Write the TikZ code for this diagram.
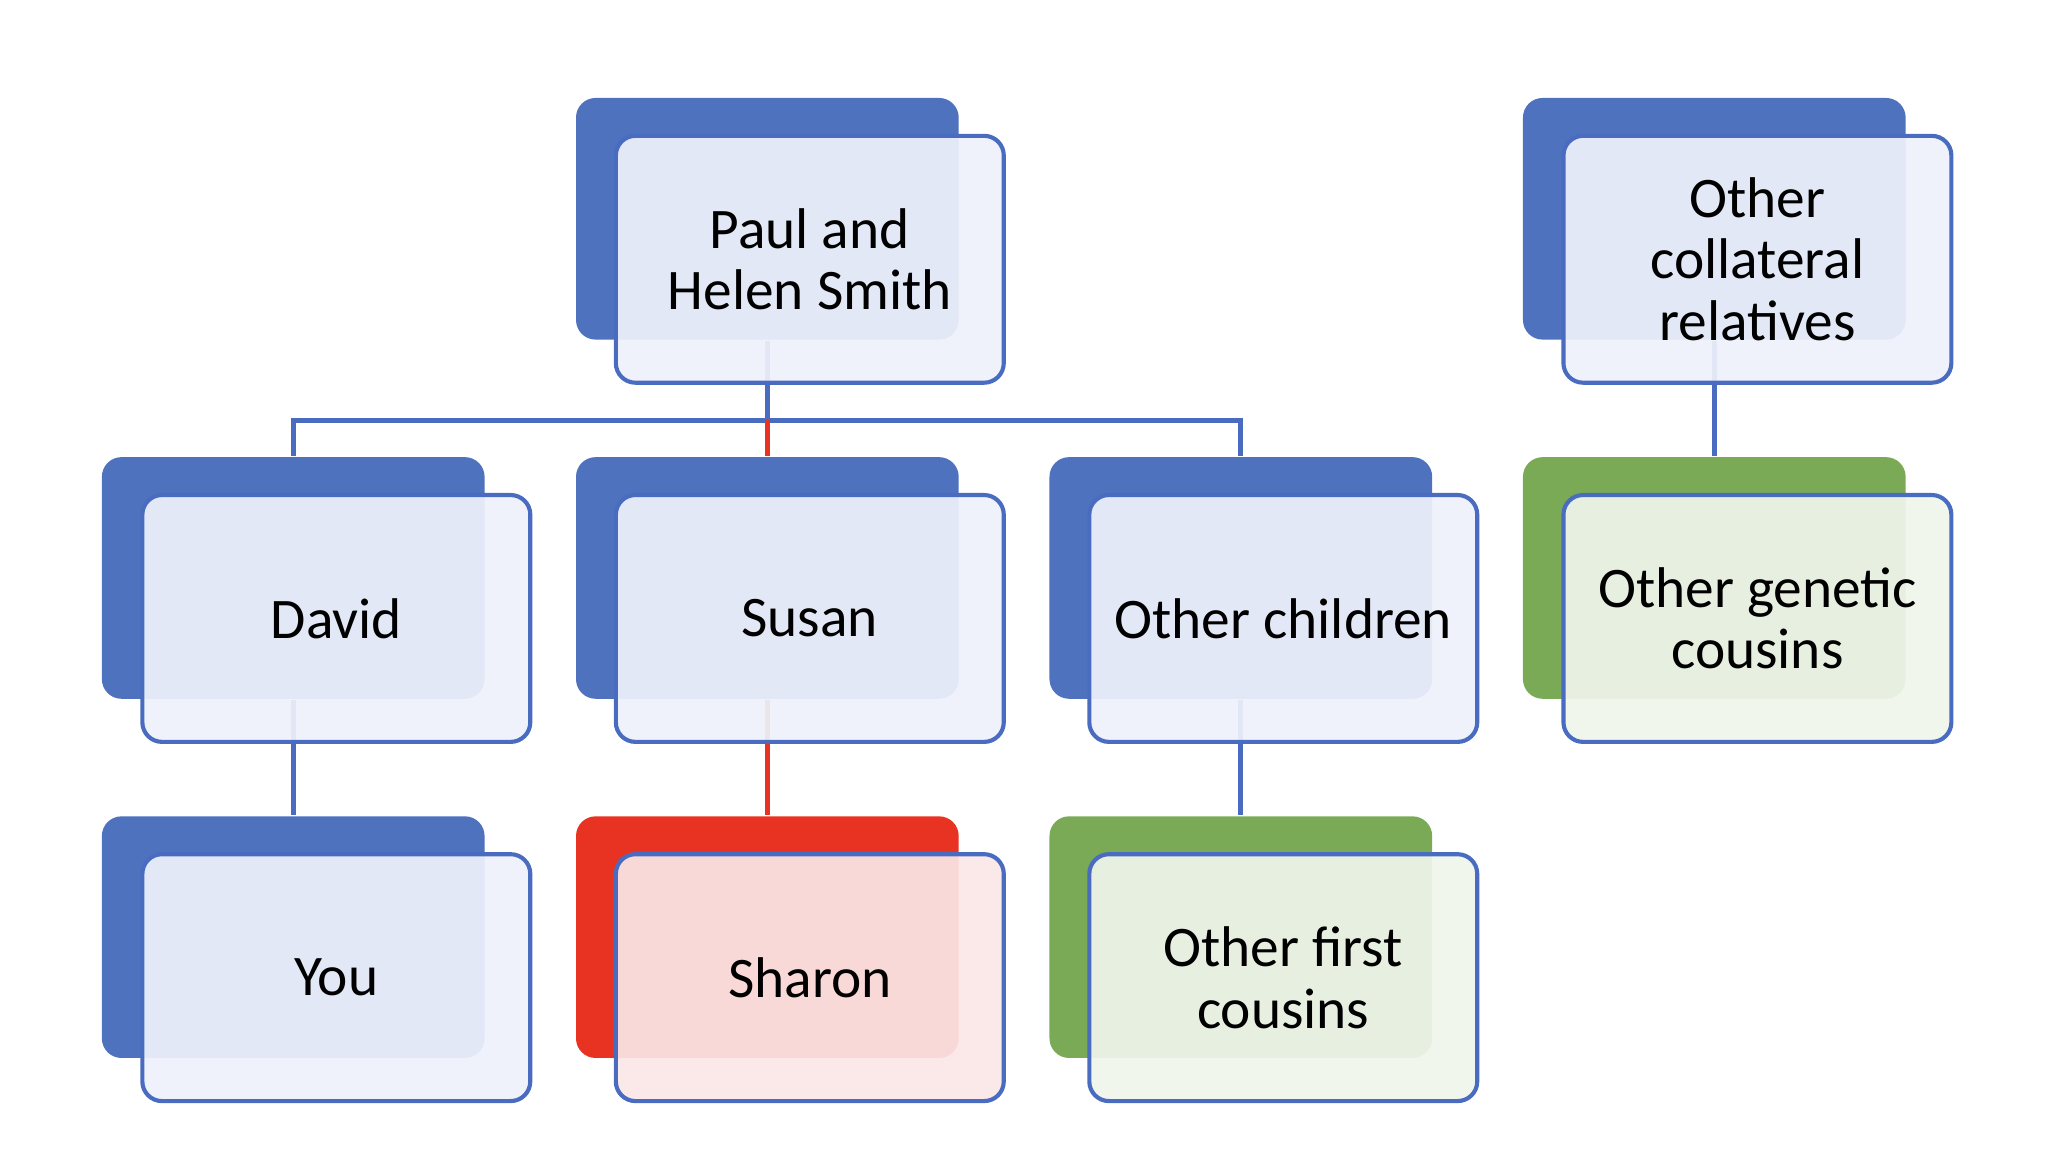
\documentclass[tikz,border=0pt]{standalone}
\usepackage{fontspec}
\setmainfont{Carlito}
\usetikzlibrary{calc}
\definecolor{tblue}{HTML}{4F72BE}
\definecolor{tred}{HTML}{E83323}
\definecolor{tgreen}{HTML}{7BAA57}
\definecolor{tline}{HTML}{4A6CC0}
\definecolor{fblue}{HTML}{EEF1FA}
\definecolor{fred}{HTML}{FBE6E6}
\definecolor{fgreen}{HTML}{F0F5EC}
\tikzset{
  backbox/.style={rounded corners=0.15cm, minimum width=2.93cm, minimum height=1.85cm, inner sep=0pt, fill=#1},
  frontbox/.style={rounded corners=0.15cm, minimum width=2.97cm, minimum height=1.89cm, inner sep=0pt,
    draw=tline, line width=0.9pt, fill=#1, fill opacity=0.93, text opacity=1, align=center,
    font=\fontsize{12.5}{13.4}\selectfont},
  link/.style={draw=tline, line width=1.1pt},
  redlink/.style={draw=tred, line width=1.1pt}
}
\begin{document}
\begin{tikzpicture}
\useasboundingbox (0,0) rectangle (15.68,-8.98);
% Back boxes
\node[backbox=tblue] (paulB) at (5.875,-1.675) {};
\node[backbox=tblue] (otherB) at (13.125,-1.675) {};
\node[backbox=tblue] (davidB) at (2.245,-4.425) {};
\node[backbox=tblue] (susanB) at (5.875,-4.425) {};
\node[backbox=tblue] (childB) at (9.5,-4.425) {};
\node[backbox=tgreen] (geneticB) at (13.125,-4.425) {};
\node[backbox=tblue] (youB) at (2.245,-7.175) {};
\node[backbox=tred] (sharonB) at (5.875,-7.175) {};
\node[backbox=tgreen] (firstB) at (9.5,-7.175) {};
% Connectors
\coordinate (bar) at ($(paulB.south)+(0,-0.61)$);
\draw[link] (paulB.south) -- (bar);
\draw[link] (davidB.north) |- (bar) -| (childB.north);
\draw[redlink] (bar) -- (susanB.north);
\draw[link] (otherB.south) -- (geneticB.north);
\draw[link] (davidB.south) -- (youB.north);
\draw[redlink] (susanB.south) -- (sharonB.north);
\draw[link] (childB.south) -- (firstB.north);
% Front boxes
\node[frontbox=fblue] (paul) at (6.2,-1.985) {Paul and\\Helen Smith};
\node[frontbox=fblue] (other) at (13.455,-1.985) {Other\\collateral\\relatives};
\node[frontbox=fblue] (david) at (2.575,-4.735) {David};
\node[frontbox=fblue] (susan) at (6.2,-4.735) {Susan};
\node[frontbox=fblue] (child) at (9.825,-4.735) {Other children};
\node[frontbox=fgreen] (genetic) at (13.455,-4.735) {Other genetic\\cousins};
\node[frontbox=fblue] (you) at (2.575,-7.485) {You};
\node[frontbox=fred] (sharon) at (6.2,-7.485) {Sharon};
\node[frontbox=fgreen] (first) at (9.825,-7.485) {Other first\\cousins};
\end{tikzpicture}
\end{document}
